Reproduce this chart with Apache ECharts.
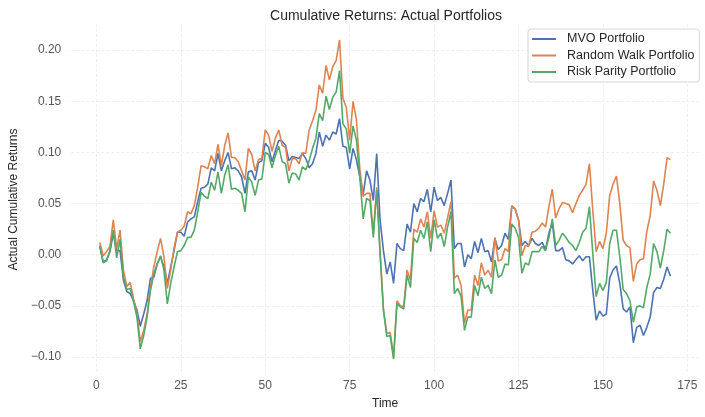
<!DOCTYPE html>
<html>
<head>
<meta charset="utf-8">
<script src="https://cdn.jsdelivr.net/npm/echarts@6/dist/echarts.min.js"></script>
<style>
  html, body { margin: 0; padding: 0; background: #fff; }
  #chart { width: 705px; height: 417px; }
</style>
</head>
<body>
<div id="chart"></div>
<script>
// time steps 1..170
var time = Array.from({ length: 170 }, function (_, i) { return i + 1; });

var mvo = [0.009,-0.007,-0.005,0.003,0.021,0.004,0.004,-0.025,-0.036,-0.038,
  -0.045,-0.054,-0.070,-0.058,-0.045,-0.023,-0.022,-0.009,-0.002,-0.012,
  -0.028,-0.012,0.004,0.022,0.022,0.018,0.032,0.035,0.037,0.052,
  0.065,0.066,0.069,0.085,0.082,0.099,0.082,0.092,0.100,0.084,
  0.085,0.082,0.076,0.060,0.081,0.082,0.073,0.090,0.092,0.109,
  0.105,0.091,0.102,0.112,0.111,0.107,0.092,0.096,0.095,0.094,
  0.099,0.094,0.085,0.089,0.099,0.120,0.106,0.117,0.112,0.120,
  0.118,0.133,0.106,0.105,0.084,0.104,0.093,0.076,0.059,0.082,
  0.073,0.053,0.099,0.034,0.004,-0.019,-0.007,-0.028,0.011,0.006,
  0.004,0.030,0.022,0.050,0.042,0.055,0.052,0.064,0.042,0.066,
  0.053,0.056,0.048,0.060,0.073,0.006,0.011,0.011,-0.012,0.000,
  -0.004,0.013,0.002,0.016,0.003,0.004,-0.007,0.016,0.005,0.009,
  0.021,0.015,0.047,0.045,0.034,0.009,0.013,0.009,0.016,0.011,
  0.009,0.012,0.005,0.021,0.031,0.004,0.004,0.007,-0.005,-0.006,
  -0.009,-0.005,-0.001,-0.006,-0.002,-0.002,-0.035,-0.064,-0.055,-0.060,
  -0.058,-0.023,-0.015,-0.011,-0.028,-0.053,-0.056,-0.051,-0.086,-0.071,
  -0.069,-0.079,-0.071,-0.061,-0.037,-0.032,-0.033,-0.024,-0.012,-0.021];

var randomWalk = [0.012,-0.001,0.003,0.008,0.034,0.006,0.024,-0.015,-0.031,-0.027,
  -0.043,-0.058,-0.085,-0.074,-0.058,-0.032,-0.012,0.003,0.016,-0.002,
  -0.033,-0.015,0.007,0.022,0.024,0.028,0.042,0.040,0.048,0.066,
  0.087,0.086,0.084,0.097,0.089,0.108,0.087,0.107,0.119,0.095,
  0.095,0.091,0.082,0.073,0.104,0.098,0.082,0.093,0.094,0.122,
  0.117,0.101,0.114,0.122,0.107,0.105,0.082,0.094,0.094,0.089,
  0.100,0.099,0.122,0.131,0.141,0.166,0.158,0.185,0.171,0.184,
  0.190,0.210,0.153,0.144,0.112,0.150,0.132,0.084,0.057,0.060,
  0.060,0.021,0.066,0.004,-0.054,-0.077,-0.076,-0.100,-0.045,-0.050,
  -0.051,-0.015,-0.025,0.025,0.022,0.035,0.027,0.042,0.016,0.043,
  0.027,0.029,0.021,0.036,0.052,-0.023,-0.020,-0.030,-0.067,-0.054,
  -0.054,-0.020,-0.030,-0.008,-0.020,-0.015,-0.022,0.017,-0.006,-0.005,
  0.006,0.003,0.048,0.045,0.034,-0.001,0.009,0.008,0.022,0.023,
  0.026,0.031,0.027,0.047,0.064,0.036,0.045,0.051,0.050,0.049,
  0.041,0.050,0.058,0.063,0.069,0.089,0.043,0.003,0.013,0.006,
  0.021,0.058,0.069,0.077,0.050,0.014,0.009,0.007,-0.026,-0.009,
  -0.005,-0.004,0.023,0.038,0.072,0.063,0.048,0.069,0.095,0.093];

var riskParity = [0.008,-0.008,-0.006,0.004,0.024,-0.003,0.015,-0.022,-0.034,-0.033,
  -0.046,-0.061,-0.092,-0.079,-0.061,-0.035,-0.019,-0.009,-0.001,-0.015,
  -0.048,-0.028,-0.012,0.003,0.004,0.009,0.017,0.017,0.024,0.042,
  0.061,0.057,0.055,0.071,0.063,0.081,0.060,0.078,0.088,0.064,
  0.065,0.063,0.060,0.042,0.076,0.071,0.058,0.073,0.074,0.100,
  0.098,0.085,0.097,0.106,0.091,0.089,0.070,0.080,0.079,0.073,
  0.086,0.083,0.092,0.104,0.114,0.138,0.131,0.155,0.142,0.154,
  0.159,0.180,0.128,0.123,0.099,0.126,0.112,0.076,0.035,0.055,
  0.053,0.017,0.063,0.001,-0.054,-0.080,-0.079,-0.102,-0.048,-0.051,
  -0.053,-0.020,-0.032,0.016,0.012,0.024,0.016,0.032,0.003,0.034,
  0.016,0.021,0.008,0.027,0.042,-0.038,-0.033,-0.041,-0.074,-0.061,
  -0.061,-0.030,-0.040,-0.022,-0.033,-0.030,-0.038,-0.005,-0.022,-0.020,
  -0.009,-0.010,0.030,0.026,0.017,-0.018,-0.008,-0.010,0.003,0.003,
  0.003,0.008,0.004,0.017,0.035,0.009,0.014,0.021,0.017,0.012,
  0.009,0.004,0.012,0.022,0.026,0.047,0.001,-0.041,-0.028,-0.035,
  -0.027,0.011,0.024,0.024,-0.002,-0.034,-0.038,-0.045,-0.066,-0.051,
  -0.050,-0.052,-0.032,-0.019,0.011,0.003,-0.013,0.004,0.025,0.021];

var xTicks = [0, 25, 50, 75, 100, 125, 150, 175];
var yTicks = [-0.10, -0.05, 0.00, 0.05, 0.10, 0.15, 0.20];

var chart = echarts.init(document.getElementById('chart'), null, { renderer: 'canvas' });

function pairs(values) {
  return time.map(function (t, i) { return [t, values[i]]; });
}

var font = '"Liberation Sans", Arial, sans-serif';
var gridLine = { show: true, lineStyle: { color: '#efefef', width: 1, type: [3, 2] } };

var option = {
  animation: false,
  backgroundColor: '#fff',
  textStyle: { fontFamily: font },
  title: {
    text: 'Cumulative Returns: Actual Portfolios',
    left: 381,
    textAlign: 'center',
    top: 4,
    textStyle: { fontFamily: font, fontSize: 14, fontWeight: 'normal', color: '#262626' }
  },
  legend: {
    orient: 'vertical',
    left: 528,
    top: 29,
    backgroundColor: '#fff',
    borderColor: '#d6d6d6',
    borderWidth: 1,
    borderRadius: 3,
    padding: [2, 5, 2, 4],
    itemWidth: 24,
    itemHeight: 2,
    itemGap: 0.5,
    icon: 'rect',
    textStyle: { fontFamily: font, fontSize: 12.5, lineHeight: 16, color: '#262626', padding: [0, 0, 0, 6] },
    data: ['MVO Portfolio', 'Random Walk Portfolio', 'Risk Parity Portfolio']
  },
  grid: { left: 62, right: 6, top: 24, bottom: 42 },
  xAxis: {
    type: 'value',
    min: -7.45,
    max: 178.45,
    name: 'Time',
    nameLocation: 'middle',
    nameGap: 23,
    nameTextStyle: { fontFamily: font, fontSize: 12, color: '#262626' },
    axisLine: { show: false },
    axisTick: { show: false, customValues: xTicks },
    axisLabel: { customValues: xTicks, color: '#555', fontSize: 12, margin: 5, fontFamily: font },
    splitLine: gridLine
  },
  yAxis: {
    type: 'value',
    min: -0.1176,
    max: 0.2256,
    name: 'Actual Cumulative Returns',
    nameLocation: 'middle',
    nameGap: 49,
    nameTextStyle: { fontFamily: font, fontSize: 12, color: '#262626' },
    axisLine: { show: false },
    axisTick: { show: false, customValues: yTicks },
    axisLabel: {
      customValues: yTicks, color: '#555', fontSize: 12, margin: 10, fontFamily: font,
      formatter: function (v) { return v.toFixed(2).replace('-', '\u2212'); }
    },
    splitLine: gridLine
  },
  series: [
    { name: 'MVO Portfolio', type: 'line', data: pairs(mvo), showSymbol: false, symbol: 'none',
      color: '#4c72b0', lineStyle: { width: 1.6, color: '#4c72b0' } },
    { name: 'Random Walk Portfolio', type: 'line', data: pairs(randomWalk), showSymbol: false, symbol: 'none',
      color: '#dd8452', lineStyle: { width: 1.6, color: '#dd8452' } },
    { name: 'Risk Parity Portfolio', type: 'line', data: pairs(riskParity), showSymbol: false, symbol: 'none',
      color: '#55a868', lineStyle: { width: 1.6, color: '#55a868' } }
  ]
};

chart.setOption(option);
</script>
</body>
</html>
